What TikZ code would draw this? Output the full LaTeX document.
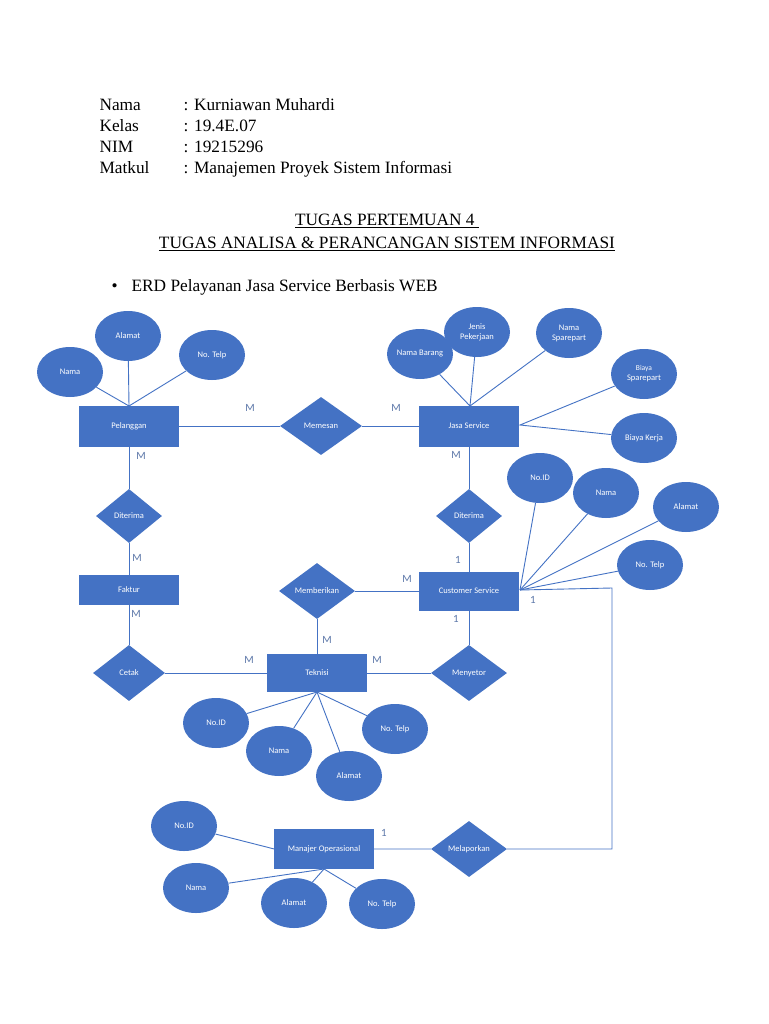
\documentclass[tikz,border=0pt]{standalone}
\usepackage{fontspec}
\setmainfont{Liberation Serif}
\newfontfamily\carl{Carlito}
\usetikzlibrary{shapes.geometric}
\definecolor{bl}{HTML}{4472C4}
\begin{document}
\begin{tikzpicture}[x=1pt,y=-1pt,
 ent/.style={draw=bl,fill=bl,minimum width=99pt,minimum height=40pt,text=white,font=\carl\fontsize{8.5}{9}\selectfont},
 rel/.style={diamond,aspect=1.4,fill=bl,inner sep=0pt,minimum width=76pt,minimum height=56pt,text=white,font=\carl\fontsize{8.5}{9}\selectfont},
 att/.style={ellipse,fill=bl,minimum width=66pt,minimum height=50pt,inner sep=0pt,text=white,align=center,font=\carl\fontsize{8.5}{10}\selectfont},
 ln/.style={draw=bl,line width=0.9pt},
 card/.style={text=bl!60!gray,font=\carl\fontsize{11}{12}\selectfont},
 hd/.style={anchor=base west,font=\fontsize{17.3}{20}\selectfont}]
\useasboundingbox (0,0) rectangle (768,1024);
\fill[white] (0,0) rectangle (768,1024);
% header
\node[hd] (h1) at (96,111) {Nama};\node[hd] (h1b) at (180,111) {: Kurniawan Muhardi};
\node[hd] (h2) at (96,132) {Kelas};\node[hd] (h2b) at (180,132) {: 19.4E.07};
\node[hd] (h3) at (96,153) {NIM};\node[hd] (h3b) at (180,153) {: 19215296};
\node[hd] (h4) at (96,174) {Matkul};\node[hd] (h4b) at (180,174) {: Manajemen Proyek Sistem Informasi};
\node[font=\fontsize{17.3}{20}\selectfont] (t1) at (387,221) {\underline{TUGAS PERTEMUAN 4\ }};
\node[font=\fontsize{17.3}{20}\selectfont] (t2) at (387,244) {\underline{TUGAS ANALISA \& PERANCANGAN SISTEM INFORMASI}};
\node[hd] (b) at (108,291) {\textbullet\hspace{14pt}ERD Pelayanan Jasa Service Berbasis WEB};
% entities
\node[ent] (pel) at (129,426) {Pelanggan};
\node[ent] (js) at (469,426) {Jasa Service};
\node[ent,minimum height=29pt] (fak) at (129,590) {Faktur};
\node[ent,minimum height=38pt] (cs) at (469,591) {Customer Service};
\node[ent,minimum height=37pt] (tek) at (317,673) {Teknisi};
\node[ent,minimum height=39pt] (mo) at (324,849) {Manajer Operasional};
% relations
\node[rel,minimum width=82pt,minimum height=58pt] (mem) at (321,426) {Memesan};
\node[rel,minimum width=66pt,minimum height=54pt] (dl) at (129,516) {Diterima};
\node[rel,minimum width=66pt,minimum height=54pt] (dr) at (469,516) {Diterima};
\node[rel,minimum width=72pt] (cet) at (129,673) {Cetak};
\node[rel] (mbr) at (317,591) {Memberikan};
\node[rel] (mny) at (469,673) {Menyetor};
\node[rel] (mlp) at (469,849) {Melaporkan};
% attributes
\node[att] (pa1) at (70,372) {Nama};
\node[att] (pa2) at (128,336) {Alamat};
\node[att] (pa3) at (212,355) {No. Telp};
\node[att] (ja1) at (420,354) {Nama Barang};
\node[att] (ja2) at (477,332) {Jenis\\Pekerjaan};
\node[att] (ja3) at (569,333) {Nama\\Sparepart};
\node[att] (ja4) at (644,374) {\fontsize{7.5}{10}\selectfont Biaya\\Sparepart};
\node[att] (ja5) at (644,438) {Biaya Kerja};
\node[att] (ca1) at (540,478) {No.ID};
\node[att] (ca2) at (606,493) {Nama};
\node[att] (ca3) at (686,507) {Alamat};
\node[att] (ca4) at (650,565) {No. Telp};
\node[att] (ta1) at (216,723) {No.ID};
\node[att] (ta2) at (279,751) {Nama};
\node[att] (ta3) at (349,776) {Alamat};
\node[att] (ta4) at (395,729) {No. Telp};
\node[att] (ma1) at (184,826) {No.ID};
\node[att] (ma2) at (196,888) {Nama};
\node[att] (ma3) at (294,903) {Alamat};
\node[att] (ma4) at (382,904) {No. Telp};
% connectors
\coordinate (jst) at (470,406);
\coordinate (jsr) at (520,425);
\coordinate (csr) at (520,590);
\coordinate (tb) at (317,692);
\coordinate (mb) at (324,869);
\coordinate (e1) at (612,588);
\coordinate (e2) at (612,849);
\draw[ln] (pel) -- (mem) -- (js);
\draw[ln] (pel) -- (dl) -- (fak) -- (cet) -- (tek) -- (mny) -- (cs) -- (dr) -- (js);
\draw[ln] (tek) -- (mbr) -- (cs);
\draw[ln] (mo) -- (mlp) -- (e2) -- (e1) -- (csr);
\draw[ln] (pa1) -- (129,406) -- (pa2); \draw[ln] (pa3) -- (129,406);
\draw[ln] (ja1) -- (jst) -- (ja2); \draw[ln] (ja3) -- (jst);
\draw[ln] (ja4) -- (jsr) -- (ja5);
\foreach \a in {ca1,ca2,ca3,ca4} \draw[ln] (\a) -- (csr);
\foreach \a in {ta1,ta2,ta3,ta4} \draw[ln] (\a) -- (tb);
\foreach \a in {ma2,ma3,ma4} \draw[ln] (\a) -- (mb);
\draw[ln] (ma1) -- (mo.west);
% cardinalities
\node[card] (c1) at (250,408) {M};
\node[card] (c2) at (396,408) {M};
\node[card] (c3) at (141,456) {M};
\node[card] (c4) at (456,455) {M};
\node[card] (c5) at (137,558) {M};
\node[card] (c6) at (458,560) {1};
\node[card] (c7) at (407,579) {M};
\node[card] (c8) at (136,614) {M};
\node[card] (c9) at (456,619) {1};
\node[card] (c10) at (533,600) {1};
\node[card] (c11) at (327,640) {M};
\node[card] (c12) at (249,660) {M};
\node[card] (c13) at (377,660) {M};
\node[card] (c14) at (384,833) {1};
\end{tikzpicture}
\end{document}
